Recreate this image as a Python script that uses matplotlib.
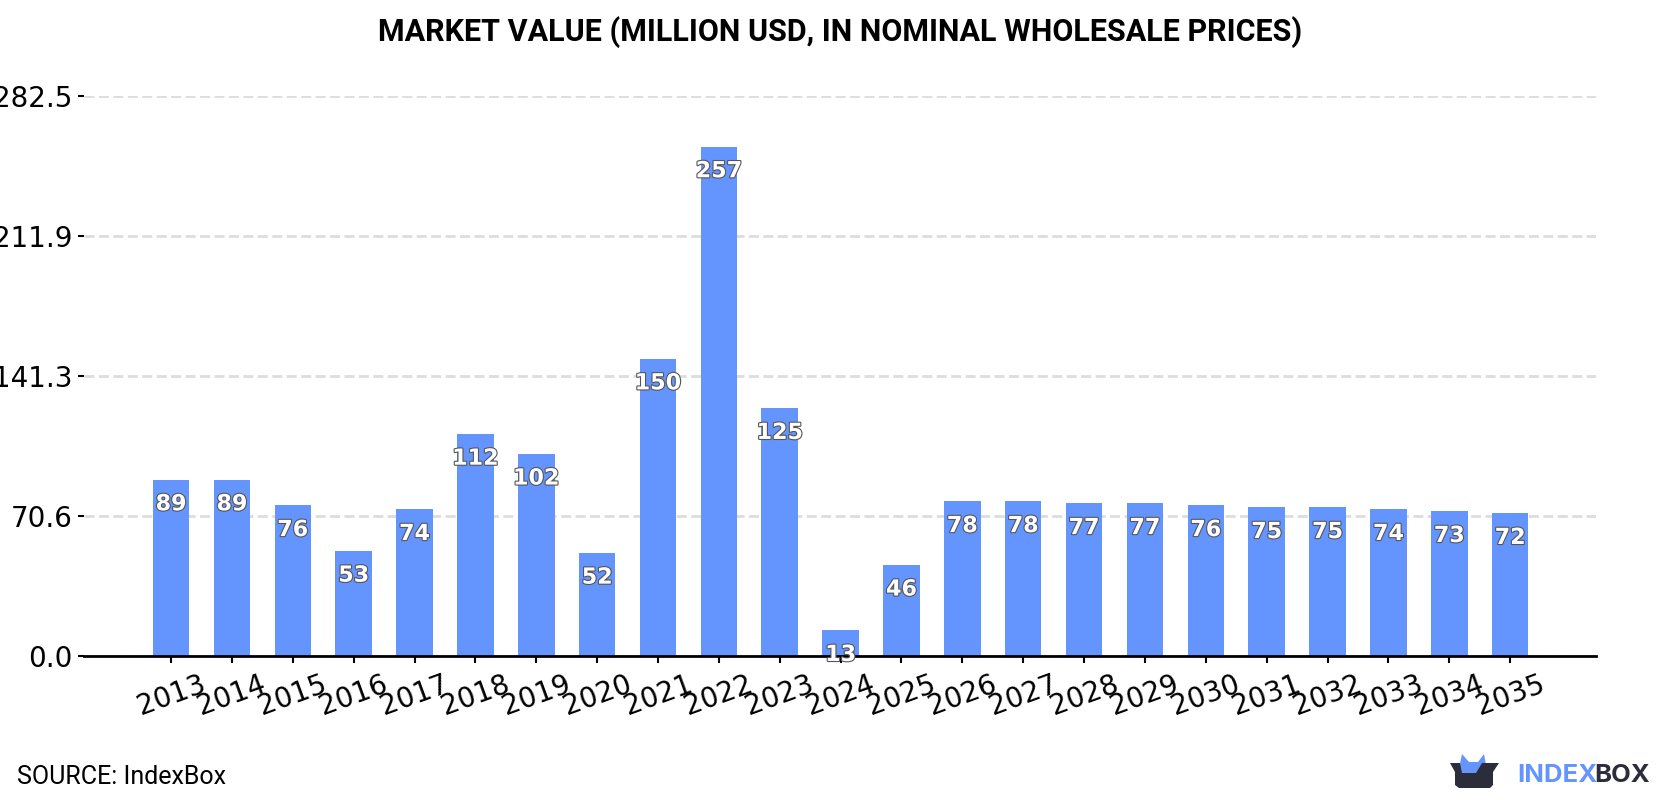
import matplotlib as mpl

mpl.use("Agg")

import matplotlib.patheffects as pe
import matplotlib.pyplot as plt
from matplotlib.patches import Polygon

years = [
    2013, 2014, 2015, 2016, 2017, 2018, 2019, 2020, 2021, 2022, 2023, 2024,
    2025, 2026, 2027, 2028, 2029, 2030, 2031, 2032, 2033, 2034, 2035,
]
values = [
    89, 89, 76, 53, 74, 112, 102, 52, 150, 257, 125, 13,
    46, 78, 78, 77, 77, 76, 75, 75, 74, 73, 72,
]
y_ticks = [0.0, 70.6, 141.3, 211.9, 282.5]

BLUE = "#6495ff"
DARK = "#2b2d3a"
W, H = 1680, 800


def draw_logo(fig):
    # overlay axes in pixel units, y pointing down
    ax = fig.add_axes([0, 0, 1, 1], facecolor="none")
    ax.set_xlim(0, W)
    ax.set_ylim(H, 0)
    ax.axis("off")

    ears = [(1458, 773), (1462, 754), (1469, 762), (1478, 762), (1484, 754), (1487, 770), (1478, 773)]
    ax.add_patch(Polygon(ears, closed=True, fc=BLUE, ec="none"))
    box = [
        (1450, 763), (1460, 763), (1462, 773), (1476, 773), (1482, 763), (1499, 763),
        (1493, 772), (1493, 785), (1490, 788), (1459, 788), (1455, 785), (1455, 772),
    ]
    ax.add_patch(Polygon(box, closed=True, fc=DARK, ec="none"))

    ax.text(1517, 782, "INDEX", color=BLUE, fontsize=18.5, family="Inter",
            weight="bold", ha="left", va="baseline")
    ax.text(1650, 782, "BOX", color=DARK, fontsize=18.5, family="Inter",
            weight="bold", ha="right", va="baseline")


def main():
    fig = plt.figure(figsize=(W / 100, H / 100), dpi=100)
    ax = fig.add_axes([84 / W, (H - 656) / H, (1596 - 84) / W, (656 - 96) / H])

    ax.bar(range(len(years)), values, width=0.6, color=BLUE, zorder=2)
    for i, v in enumerate(values):
        ax.annotate(
            str(v), (i, v), xytext=(0, -17.8), textcoords="offset points",
            ha="center", va="center", color="white", fontsize=16, weight="bold",
            zorder=5, annotation_clip=False,
            path_effects=[pe.withStroke(linewidth=1.6, foreground="#555555")],
        )

    ax.set_xlim(-1.43, 23.41)
    ax.set_ylim(0, 282.5)
    ax.set_yticks(y_ticks)
    ax.set_yticklabels([f"{t:.1f}" for t in y_ticks], fontsize=20)
    ax.set_xticks(range(len(years)))
    ax.set_xticklabels(years, fontsize=20, rotation=20)

    ax.tick_params(axis="y", length=4.5, width=1.5, pad=4)
    ax.tick_params(axis="x", length=5, width=1.5, pad=5)
    ax.grid(axis="y", color="#dddddd", lw=2, linestyle=(0, (3.6, 1.6)), zorder=0)
    ax.set_axisbelow(True)
    for side in ["top", "right", "left"]:
        ax.spines[side].set_visible(False)
    ax.spines["bottom"].set_linewidth(2)
    ax.spines["bottom"].set_zorder(3)

    fig.text(840 / W, 1 - 32 / H, "MARKET VALUE (MILLION USD, IN NOMINAL WHOLESALE PRICES)",
             family="Roboto", weight="bold", fontsize=22, ha="center", va="center")
    fig.text(17 / W, 1 - 777 / H, "SOURCE: IndexBox", family="Roboto", fontsize=18,
             ha="left", va="center")

    draw_logo(fig)
    fig.savefig("out.png", dpi=100)


if __name__ == "__main__":
    main()
